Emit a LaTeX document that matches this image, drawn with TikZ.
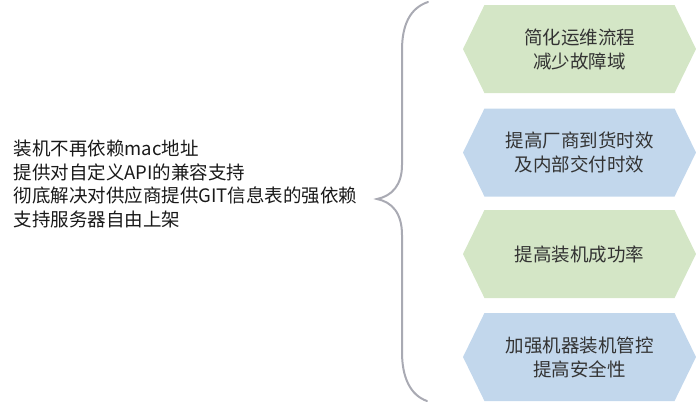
\documentclass[tikz,border=0pt]{standalone}
\usepackage{fontspec}
\setmainfont{Noto Sans CJK SC}
\usetikzlibrary{shapes.symbols}

\definecolor{goalgreen}{HTML}{D4E6C6}
\definecolor{goalblue}{HTML}{C2D7EC}
\definecolor{bracegray}{HTML}{A9AAB3}

\begin{document}
\begin{tikzpicture}[x=1pt,y=-1pt,
    goal/.style={signal, signal to=west and east, signal pointer angle=128,
      minimum width=233pt, minimum height=88pt, inner sep=0pt,
      align=center, font=\fontsize{18.5}{24}\selectfont, text=black!80},
    green goal/.style={goal, fill=goalgreen},
    blue goal/.style={goal, fill=goalblue}]

  \useasboundingbox (0,0) rectangle (696,402);

  % left side: the measures
  \node[anchor=west, align=left, font=\fontsize{18.5}{23.5}\selectfont, text=black!90]
    (measures) at (10,184)
    {装机不再依赖mac地址\\提供对自定义API的兼容支持\\彻底解决对供应商提供GIT信息表的强依赖\\支持服务器自由上架};

  % the brace
  \coordinate (top) at (428,2);
  \coordinate (tip) at (377,199);
  \coordinate (bottom) at (427,401);
  \draw[bracegray, line width=2pt, line cap=round]
    (top) .. controls (410,8) and (402,25) .. (402,50) -- (402,165)
    .. controls (402,185) and (392,196) .. (tip)
    .. controls (392,202) and (402,213) .. (402,235) -- (402,352)
    .. controls (402,377) and (410,395) .. (bottom);

  % right side: the goals
  \node[green goal] (g1) at (579.5,49)  {简化运维流程\\减少故障域};
  \node[blue goal]  (g2) at (579.5,152.5) {提高厂商到货时效\\及内部交付时效};
  \node[green goal] (g3) at (579.5,254) {提高装机成功率};
  \node[blue goal]  (g4) at (579.5,357) {加强机器装机管控\\提高安全性};

\end{tikzpicture}
\end{document}
